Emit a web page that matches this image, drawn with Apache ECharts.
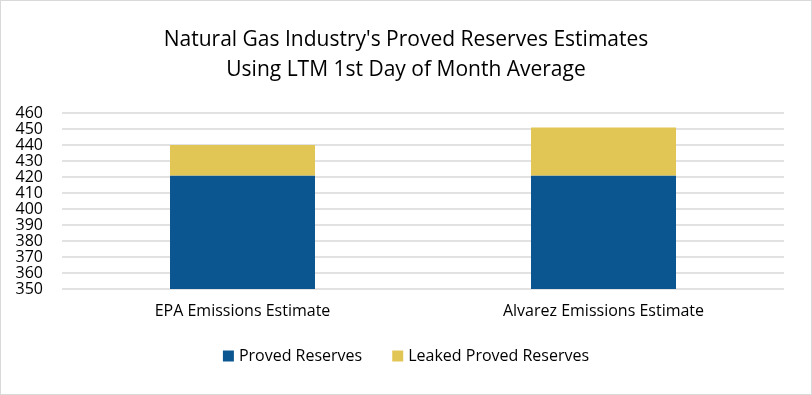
<!DOCTYPE html>
<html><head><meta charset="utf-8">
<script src="https://cdn.jsdelivr.net/npm/echarts@6/dist/echarts.min.js"></script>
<style>html,body{margin:0;padding:0;background:#fff}#c{width:812px;height:395px;box-sizing:border-box;border:1px solid #d9d9d9}</style>
</head><body><div id="c"></div>
<script>
const categories = ["EPA Emissions Estimate", "Alvarez Emissions Estimate"];
const provedReserves = [421, 421];
const leakedReserves = [19, 30];
const seriesNames = ["Proved Reserves", "Leaked Proved Reserves"];
const chart = echarts.init(document.getElementById('c'));
const font = "'Open Sans', 'Liberation Sans', sans-serif";
chart.setOption({
  animation: false,
  title: {
    text: "Natural Gas Industry's Proved Reserves Estimates\nUsing LTM 1st Day of Month Average",
    left: 'center', top: 19,
    textStyle: { fontFamily: font, fontSize: 21, fontWeight: 'normal', color: '#000', lineHeight: 30 }
  },
  legend: {
    bottom: 25, left: 'center', itemWidth: 11, itemHeight: 11, itemGap: 30, icon: 'rect',
    textStyle: { fontFamily: font, fontSize: 16, color: '#000' },
    data: seriesNames
  },
  grid: { left: 61, right: 27, top: 112, bottom: 105 },
  xAxis: {
    type: 'category', data: categories,
    axisLine: { show: false }, axisTick: { show: false },
    axisLabel: { fontFamily: font, fontSize: 16, color: '#000', margin: 14 }
  },
  yAxis: {
    type: 'value', min: 350, max: 460, interval: 10,
    axisLabel: { fontFamily: font, fontSize: 16, color: '#000', margin: 19 },
    splitLine: { lineStyle: { color: '#d9d9d9', width: 1.5 } },
    axisLine: { show: false }, axisTick: { show: false }
  },
  series: [
    { name: seriesNames[0], type: 'bar', stack: 's', data: provedReserves, barWidth: 145, itemStyle: { color: '#0b5690' } },
    { name: seriesNames[1], type: 'bar', stack: 's', data: leakedReserves, barWidth: 145, itemStyle: { color: '#e2c655' } }
  ]
});
</script></body></html>
